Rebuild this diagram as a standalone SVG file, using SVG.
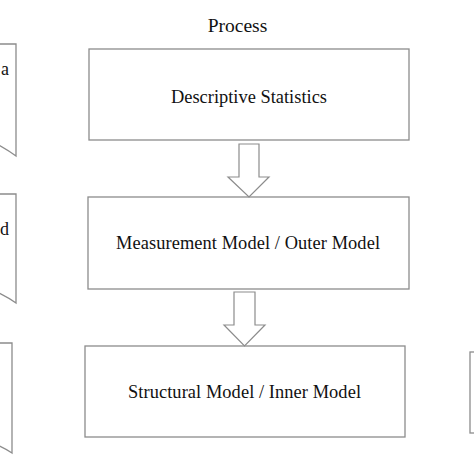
<svg xmlns="http://www.w3.org/2000/svg" width="474" height="474" viewBox="0 0 474 474">
<style>
.box{fill:#fff;stroke:#8c8c8c;stroke-width:1.3}
.doc{fill:#fff;stroke:#8c8c8c;stroke-width:1.3}
.arr{fill:#fff;stroke:#8c8c8c;stroke-width:1.2;stroke-linejoin:miter}
.t{font-family:"Liberation Serif","Times New Roman",serif;fill:#111}
</style>
<rect width="474" height="474" fill="#fff"/>
<text class="t" x="237.5" y="32" font-size="19.5" text-anchor="middle">Process</text>
<g id="doc1">
<path class="doc" d="M-5 44 H16 V156 Q8 150 -5 143 Z"/>
<text class="t" x="9" y="75" font-size="18" text-anchor="end">a</text>
</g>
<g id="doc2">
<path class="doc" d="M-5 194 H16 V303 Q8 297 -5 291 Z"/>
<text class="t" x="9" y="235" font-size="18" text-anchor="end">d</text>
</g>
<g id="doc3">
<path class="doc" d="M-5 343 H12 V453 Q6 449 -5 444 Z"/>
</g>
<g id="right-box">
<rect class="box" x="470" y="352" width="20" height="81"/>
</g>
<g id="n1">
<rect class="box" x="89" y="49" width="320" height="91"/>
<text class="t" x="249" y="103" font-size="18.4" text-anchor="middle" textLength="156">Descriptive Statistics</text>
</g>
<g id="n2">
<rect class="box" x="88" y="197" width="321" height="92"/>
<text class="t" x="248" y="249" font-size="18.4" text-anchor="middle" textLength="264">Measurement Model / Outer Model</text>
</g>
<g id="n3">
<rect class="box" x="85" y="346" width="320" height="91"/>
<text class="t" x="244.5" y="398" font-size="18.4" text-anchor="middle" textLength="233">Structural Model / Inner Model</text>
</g>
<g id="connectors">
<polygon class="arr" points="239,144 259,144 259,177 269,177 249,197 228,177 239,177"/>
<polygon class="arr" points="234,292 255,292 255,325 265,325 244.5,346 224,325 234,325"/>
</g>
</svg>
